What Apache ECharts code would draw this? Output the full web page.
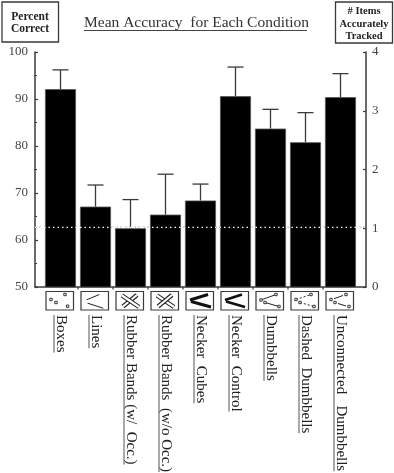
<!DOCTYPE html>
<html><head><meta charset="utf-8"><style>html,body{margin:0;padding:0;background:#fff}#c{width:394px;height:473px}</style>
<script src="https://cdn.jsdelivr.net/npm/echarts@6/dist/echarts.min.js"></script></head>
<body><div id="c"></div>
<script>
const categories = ["Boxes","Lines","Rubber Bands (w/  Occ.)","Rubber Bands  (w/o Occ.)","Necker  Cubes","Necker  Control","Dumbbells","Dashed  Dumbbells","Unconnected   Dumbbells"];
const meanAccuracy = [92.1,67.1,62.5,65.4,68.4,90.6,83.7,80.8,90.4];
const errorTop = [96.2,71.7,68.6,74.0,71.9,96.8,87.8,87.1,95.4];
const chanceLevel = 62.7;
const titleText = "Mean Accuracy  for Each Condition";

const SERIF = '"Liberation Serif","DejaVu Serif",serif';
const INK = '#3a3a3a';
const labelFont = '15px "Liberation Serif"';
const ctx = document.createElement('canvas').getContext('2d');
function textWidth(t, f){ ctx.font = f; return ctx.measureText(t).width; }

const sq = (x,y,s)=>({type:'rect',shape:{x:x-1.2,y:y-1.2,width:2.4,height:2.4},style:{fill:'#fff',stroke:'#222',lineWidth:.9}});
const ln = (a,b,c,d,w,col,dash)=>({type:'line',shape:{x1:a,y1:b,x2:c,y2:d},style:{stroke:col||'#222',lineWidth:w||1,lineDash:dash||null,lineCap:'butt'}});
const band = (a,b,c,d)=>[ln(a,b,c,d,4.4,'#222'),ln(a,b,c,d,2.2,'#fff')];
const icons = [
  ()=>[sq(5,8),sq(10,11),sq(19,3),sq(21.6,14.7)],
  ()=>[ln(5.6,8.3,18.3,3,1),ln(6.6,11.7,22.3,16.7,1)],
  ()=>[...band(7,15,21,3.5),...band(6,4,23,15.5)],
  ()=>[...band(6,4,23,15.5),...band(7,15,21,3.5)],
  ()=>[ln(4,8.5,22,3,3,'#111'),ln(5,10,25,15.5,3,'#111')],
  ()=>[ln(4,8.5,21,3,2.6,'#111'),ln(5,10,24,15.5,2.6,'#111')],
  ()=>[ln(5,8.5,20,3,1),ln(9,11,23,15,1),sq(5,8.5),sq(20,3),sq(9,11),sq(23,15)],
  ()=>[ln(5,8,20,3,1,'#222',[2,2]),ln(9,11,23,15,1,'#222',[2,2]),sq(5,8),sq(20,3),sq(9,11),sq(23,15)],
  ()=>[ln(8,7.2,17,4,1),ln(12,12,20,14.5,1),sq(5,8),sq(20,3),sq(9,11),sq(23,15)]
];

const chart = echarts.init(document.getElementById('c'),null,{renderer:'canvas'});
const labelBox = (x,y,w,h)=>({type:'rect',shape:{x,y,width:w,height:h},style:{fill:'#fff',stroke:INK,lineWidth:1.3}});
const boxText = (x,y,t,fs)=>({type:'text',x,y,style:{text:t,font:'bold '+fs+'px '+SERIF,fill:'#222',align:'center',verticalAlign:'middle',lineHeight:12.5}});

chart.setOption({
  animation:false,
  backgroundColor:'#fff',
  title:{text:titleText,left:84,top:15,padding:0,textStyle:{fontFamily:SERIF,fontWeight:'normal',fontSize:15.5,color:'#333'}},
  graphic:[
    labelBox(2,2,56.5,40),boxText(30,23,'Percent\nCorrect',11.5),
    labelBox(335.5,2,57,41),boxText(364,24,'# Items\nAccurately\nTracked',10.5),
    {type:'line',shape:{x1:84,y1:30.5,x2:307,y2:30.5},style:{stroke:'#444',lineWidth:1}}
  ],
  grid:[
    {left:35,top:52,width:331,height:235,outerBoundsMode:'none'},
    {left:43,top:52,width:315,height:235,outerBoundsMode:'none'}
  ],
  xAxis:[
    {gridIndex:0,type:'value',min:0,max:1,axisLine:{show:true,onZero:false,lineStyle:{color:INK,width:1.5}},axisTick:{show:false},axisLabel:{show:false},splitLine:{show:false}},
    {gridIndex:1,type:'category',data:categories,axisLine:{show:false},axisTick:{show:false},
      axisLabel:{interval:0,rotate:-90,margin:28,align:'left',verticalAlign:'middle',padding:[6,0,0,0],fontFamily:SERIF,fontSize:15,color:'#222'}}
  ],
  yAxis:[
    {gridIndex:0,type:'value',min:50,max:100,interval:10,position:'left',
      axisLine:{show:true,lineStyle:{color:INK,width:1.5}},
      axisTick:{show:true,inside:true,length:3,lineStyle:{color:INK,width:1.2}},
      minorTick:{show:true,splitNumber:2,length:2,lineStyle:{color:INK}},
      axisLabel:{margin:7,fontFamily:SERIF,fontSize:13,color:'#444'},splitLine:{show:false}},
    {gridIndex:0,type:'value',min:0,max:4,interval:1,position:'right',
      axisLine:{show:true,lineStyle:{color:INK,width:1.5}},
      axisTick:{show:true,inside:true,length:3,lineStyle:{color:INK,width:1.2}},
      axisLabel:{margin:6,fontFamily:SERIF,fontSize:13,color:'#444'},splitLine:{show:false}},
    {gridIndex:1,type:'value',min:50,max:100,show:false,splitLine:{show:false}}
  ],
  series:[
    {type:'line',xAxisIndex:0,yAxisIndex:0,z:1,symbol:'none',silent:true,data:[[0,chanceLevel],[1,chanceLevel]],lineStyle:{color:'#222',width:1.2,type:[1.5,3]}},
    {type:'bar',xAxisIndex:1,yAxisIndex:2,z:2,data:meanAccuracy,barWidth:31,itemStyle:{color:'#000',borderColor:'#555',borderWidth:.8}},
    {type:'custom',xAxisIndex:1,yAxisIndex:2,z:3,clip:false,
      data:categories.map((c,i)=>[i,meanAccuracy[i],errorTop[i]]),
      renderItem:(p,api)=>{
        const a=api.coord([api.value(0),api.value(1)]), b=api.coord([api.value(0),api.value(2)]);
        const s={stroke:INK,lineWidth:1.3};
        return {type:'group',children:[
          {type:'line',shape:{x1:a[0],y1:a[1],x2:b[0],y2:b[1]},style:s},
          {type:'line',shape:{x1:b[0]-8,y1:b[1],x2:b[0]+8,y2:b[1]},style:s}]};
      }},
    {type:'line',xAxisIndex:0,yAxisIndex:0,z:5,symbol:'none',silent:true,data:[[0,chanceLevel],[1,chanceLevel]],lineStyle:{color:'#fff',width:1.2,type:[1.5,3]}},
    {type:'custom',xAxisIndex:1,yAxisIndex:2,z:4,clip:false,silent:true,
      data:categories.map((c,i)=>[i,50]),
      renderItem:(p,api)=>{
        const i=api.value(0), o=api.coord([i,50]);
        const x=o[0]-14.5, y=o[1]+4.5;
        const kids=[{type:'group',x,y,children:[
          {type:'rect',shape:{x:0,y:0,width:27.5,height:18.5},style:{fill:'#fff',stroke:INK,lineWidth:1.2}},
          ...icons[i]()]},
          {type:'line',shape:{x1:o[0]-6.5,y1:o[1]+28,x2:o[0]-6.5,y2:o[1]+28+textWidth(categories[i],labelFont)},style:{stroke:'#555',lineWidth:1}}
        ];
        if(i>0) kids.push({type:'line',shape:{x1:o[0]-17.5,y1:o[1],x2:o[0]-17.5,y2:o[1]+2.5},style:{stroke:INK,lineWidth:1.2}});
        return {type:'group',children:kids};
      }}
  ]
});
</script></body></html>
